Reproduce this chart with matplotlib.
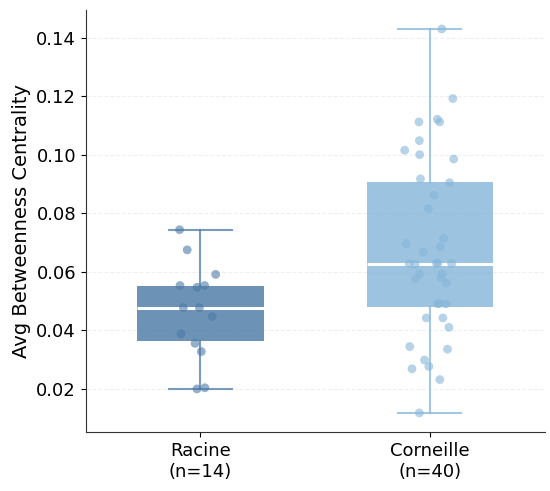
import matplotlib
matplotlib.use('Agg')
import matplotlib.pyplot as plt
import numpy as np

# values
authors = ['Racine', 'Corneille']
racine = [0.0744, 0.0675, 0.0591, 0.0553, 0.0553, 0.0547, 0.0477,
          0.0477, 0.0447, 0.0388, 0.0355, 0.0327, 0.0199, 0.0203]
corneille = [0.1431, 0.1193, 0.1113, 0.1122, 0.1113, 0.1049, 0.1016,
             0.0986, 0.1001, 0.0918, 0.0905, 0.0862, 0.0816, 0.0715,
             0.0696, 0.0685, 0.0667, 0.0628, 0.0628, 0.0628, 0.0625,
             0.0630, 0.0593, 0.0593, 0.0580, 0.0576, 0.0561, 0.0490,
             0.0492, 0.0490, 0.0442, 0.0442, 0.0410, 0.0344, 0.0335,
             0.0298, 0.0276, 0.0268, 0.0231, 0.0117]
colors = ['#4c7aa6', '#86b6da']

data = [racine, corneille]

fig, ax = plt.subplots(figsize=(5.5, 4.91), dpi=100)
fig.subplots_adjust(left=0.156, right=0.99, bottom=0.12, top=0.98)

bp = ax.boxplot(data, positions=range(len(data)), widths=0.55,
                patch_artist=True, showfliers=False, whis=1.5)
for i, c in enumerate(colors):
    bp['boxes'][i].set(facecolor=c, edgecolor=c, alpha=0.82, linewidth=0)
    bp['medians'][i].set(color='white', linewidth=2.2)
    for line in bp['whiskers'][2 * i:2 * i + 2] + bp['caps'][2 * i:2 * i + 2]:
        line.set(color=c, alpha=0.75, linewidth=1.5)

# strip points with jitter
rng = np.random.default_rng(3)
for i, (vals, c) in enumerate(zip(data, colors)):
    xs = i + rng.uniform(-0.11, 0.11, len(vals))
    ax.scatter(xs, vals, s=40, color=c, alpha=0.6, edgecolors='none',
               zorder=3)

ax.set_xlim(-0.5, 1.5)
ax.set_xticks(range(len(authors)))
ax.set_xticklabels([f'{a}\n(n={len(d)})' for a, d in zip(authors, data)],
                   fontsize=13)
ax.tick_params(axis='y', labelsize=13)
ax.set_ylabel('Avg Betweenness Centrality', fontsize=14)
ax.set_yticks([0.02, 0.04, 0.06, 0.08, 0.10, 0.12, 0.14])
ax.grid(axis='y', linestyle='--', alpha=0.2)
ax.set_axisbelow(True)
ax.spines['top'].set_visible(False)
ax.spines['right'].set_visible(False)
for s in ['left', 'bottom']:
    ax.spines[s].set_color('#333333')

fig.savefig('out.png')
